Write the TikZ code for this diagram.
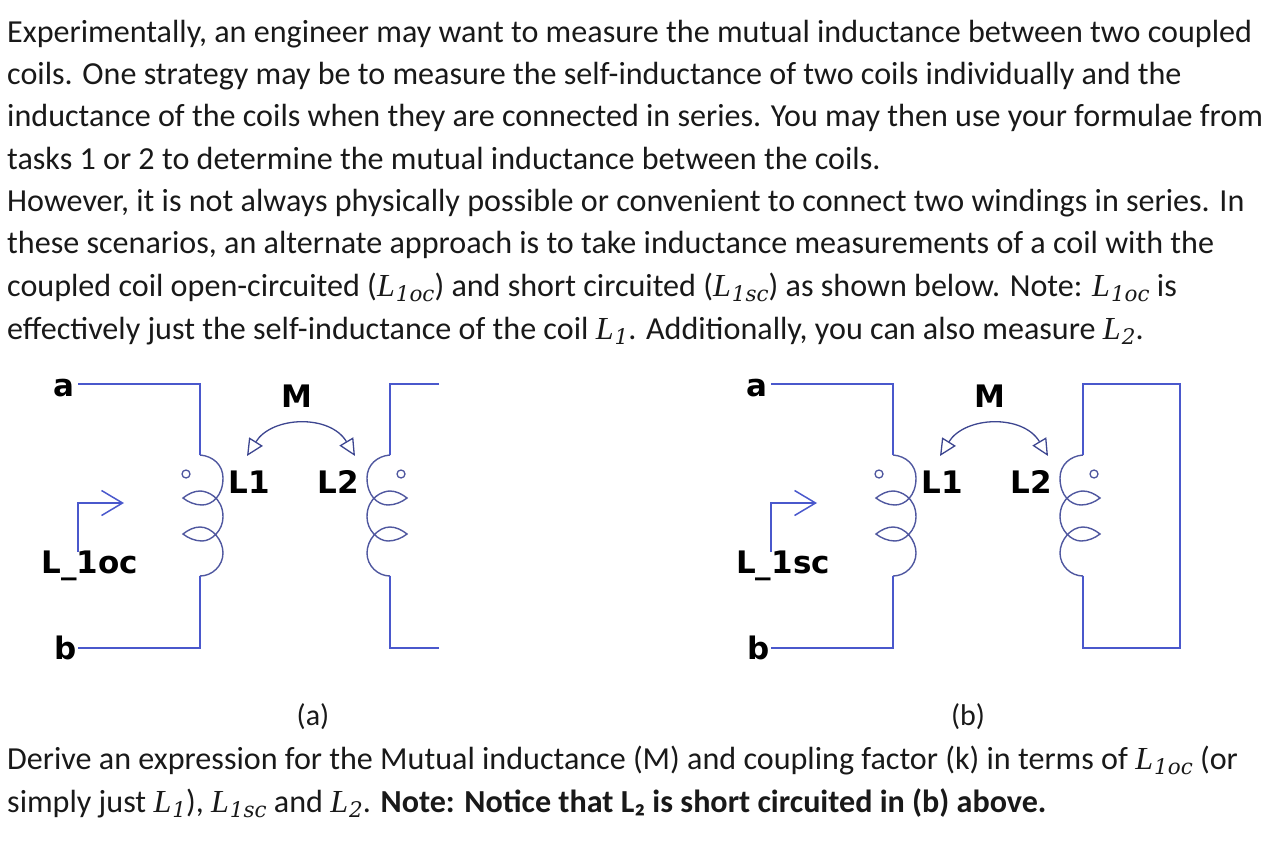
\documentclass[tikz,border=0pt]{standalone}
\usepackage{fontspec}
\setmainfont{Carlito}
\newfontfamily\labfont{DejaVu Sans}
\newfontfamily\symfont{Liberation Serif}
\newfontfamily\subfont{DejaVu Serif}
\usetikzlibrary{arrows.meta}
\definecolor{wireblue}{HTML}{4A58CC}
\definecolor{coilblue}{HTML}{4F579F}
\definecolor{arcblue}{HTML}{3D4690}
\newcommand{\ind}[1]{{\symfont\itshape L\kern1pt\raisebox{-5pt}{\subfont\itshape\fontsize{21.5}{21.5}\selectfont #1}}}
\tikzset{
	para/.style={anchor=base west,inner sep=0,text=black!90,font=\fontsize{32.1}{38}\selectfont},
	captext/.style={inner sep=0,text=black!90,font=\fontsize{30}{36}\selectfont},
	lab/.style={inner sep=0,font=\labfont\bfseries\fontsize{31}{37}\selectfont},
	wire/.style={draw=wireblue,line width=1.5pt},
	dotmark/.style={circle,draw=coilblue,line width=1.3pt,minimum size=8pt,inner sep=0},
	coilpic/.pic={
		\coordinate (-top) at (0,0);
		\coordinate (-bot) at (0,121);
		\draw[coilblue,line width=1.4pt] (0,0) .. controls (13,1) and (23,10) .. (23,23)
			.. controls (23,41) and (12,50) .. (2,50)
			.. controls (-5,50) and (-12,47) .. (-17,43)
			.. controls (-12,39) and (-6,36) .. (0,36)
			.. controls (7,36) and (23,42) .. (23,62)
			.. controls (23,75) and (12,86) .. (2,86)
			.. controls (-5,86) and (-12,83) .. (-17,79)
			.. controls (-12,75) and (-6,72) .. (0,72)
			.. controls (12,72) and (23,85) .. (23,98)
			.. controls (23,111) and (12,121) .. (0,121);
	}
}
\begin{document}
\begin{tikzpicture}[x=1pt,y=-1pt]
\useasboundingbox (0,0) rectangle (1268,842);
\node[para] (p1) at (7,43) {Experimentally, an engineer may want to measure the mutual inductance between two coupled};
\node[para] (p2) at (7,85) {coils. One strategy may be to measure the self-inductance of two coils individually and the};
\node[para] (p3) at (7,127) {inductance of the coils when they are connected in series. You may then use your formulae from};
\node[para] (p4) at (7,170) {tasks 1 or 2 to determine the mutual inductance between the coils.};
\node[para] (p5) at (7,212) {However, it is not always physically possible or convenient to connect two windings in series. In};
\node[para] (p6) at (7,254) {these scenarios, an alternate approach is to take inductance measurements of a coil with the};
\node[para] (p7) at (7,296) {coupled coil open-circuited (\ind{1oc}) and short circuited (\ind{1sc}) as shown below. Note: \ind{1oc} is};
\node[para] (p8) at (7,339) {effectively just the self-inductance of the coil \ind{1}. Additionally, you can also measure \ind{2}.};
\foreach \dx/\curr/\cname/\capx in {0/L\_1oc/a/313,693/L\_1sc/b/275}{
\begin{scope}[xshift=\dx pt]
	\node[lab] (a\dx) at (64,388) {a};
	\node[lab] (b\dx) at (66,648) {b};
	\node[lab] (M\dx) at (297,396) {M};
	\node[lab] (Lone\dx) at (249,482) {L1};
	\node[lab] (Ltwo\dx) at (338,482) {L2};
	\node[lab] (I\dx) at (90,566) {\curr};
	\node[captext] (cap\dx) at (\capx,717) {(\cname)};
	\node[dotmark] (dotl\dx) at (186,474) {};
	\node[dotmark] (dotr\dx) at (401,474) {};
	\pic (cl\dx) at (200,455) {coilpic};
	\pic[xscale=-1] (cr\dx) at (390,455) {coilpic};
	% wires
	\coordinate (ta\dx) at (78,384);
	\coordinate (tb\dx) at (78,648);
	\coordinate (tc\dx) at (439,384);
	\coordinate (td\dx) at (439,648);
	\draw[wire] (ta\dx) -| (cl\dx-top);
	\draw[wire] (tb\dx) -| (cl\dx-bot);
	\draw[wire] (tc\dx) -| (cr\dx-top);
	\draw[wire] (td\dx) -| (cr\dx-bot);
	% current
	\coordinate (is\dx) at (78,552);
	\coordinate (ie\dx) at (124,503);
	\draw[wire,-{Straight Barb[length=21pt,width=25pt]}] (is\dx) |- (ie\dx);
	% coupling
	\coordinate (ml\dx) at (247,456);
	\coordinate (mr\dx) at (355,456);
	\draw[arcblue,line width=1.3pt,{Triangle[open,length=17pt,width=16pt]}-{Triangle[open,length=17pt,width=16pt]}]
		(ml\dx) .. controls (272,416) and (330,414) .. (mr\dx);
\end{scope}
}
% short circuit of L2 in (b)
\coordinate (sc) at (1180,384);
\draw[wire] (tc693) -- (sc) |- (td693);
\node[para] (q1) at (7,769) {Derive an expression for the Mutual inductance (M) and coupling factor (k) in terms of \ind{1oc} (or};
\node[para] (q2) at (7,812) {simply just \ind{1}), \ind{1sc} and \ind{2}. \textbf{Note: Notice that L₂ is short circuited in (b) above.}};
\end{tikzpicture}
\end{document}
